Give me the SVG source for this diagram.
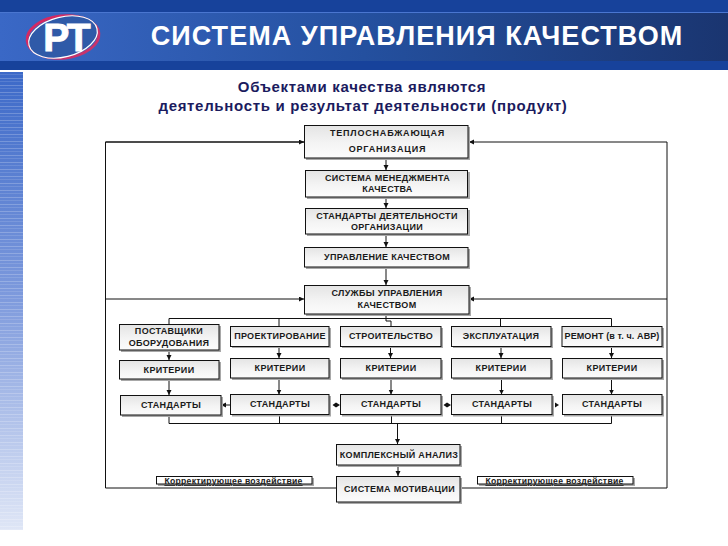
<svg xmlns="http://www.w3.org/2000/svg" width="728" height="546" viewBox="0 0 728 546">
<style>
.t{font-family:"Liberation Sans",Arial,sans-serif;font-weight:bold;font-size:9px;letter-spacing:.3px;fill:#1a1a1a;text-anchor:middle}
.w{letter-spacing:.8px}
.n{letter-spacing:.1px}
.b{fill:url(#boxg);stroke:#111;stroke-width:1}
.s{fill:#a8a8a8}
.c{fill:none;stroke:#111;stroke-width:1}
.k{font-family:"Liberation Sans",Arial,sans-serif;font-weight:bold;font-size:8.6px;fill:#222;text-anchor:middle;text-decoration:underline;letter-spacing:.3px}
.h{font-family:"Liberation Sans",Arial,sans-serif;font-weight:bold;font-size:15px;fill:#1b1b5e;text-anchor:middle;letter-spacing:.68px}
</style>
<defs>
<linearGradient id="boxg" x1="0" y1="0" x2="0" y2="1"><stop offset="0" stop-color="#e4e4e4"/><stop offset=".55" stop-color="#f4f4f4"/><stop offset="1" stop-color="#fcfcfc"/></linearGradient>
<linearGradient id="band" x1="0" y1="0" x2="1" y2="0"><stop offset="0" stop-color="#3a68c6"/><stop offset=".5" stop-color="#24509f"/><stop offset="1" stop-color="#1a3570"/></linearGradient>
<linearGradient id="side" x1="0" y1="0" x2="0" y2="1"><stop offset="0" stop-color="#3c69c8"/><stop offset=".5" stop-color="#7f9bdd"/><stop offset="1" stop-color="#dfe6f6"/></linearGradient>
<pattern id="stripes" width="23" height="7" patternUnits="userSpaceOnUse"><rect y="1" width="23" height="1" fill="#fff" opacity=".22"/><rect y="4" width="23" height="1" fill="#fff" opacity=".12"/></pattern>
<linearGradient id="ring" x1="0" y1="0" x2="1" y2="1"><stop offset="0" stop-color="#d8265f"/><stop offset="1" stop-color="#c2366e"/></linearGradient>
<marker id="a" markerWidth="6" markerHeight="6" refX="5" refY="2.5" orient="auto" markerUnits="userSpaceOnUse"><path d="M0 0L5 2.5L0 5z" fill="#111"/></marker>
</defs>

<rect width="728" height="546" fill="#fff"/>
<g id="header">
<rect width="728" height="70" fill="#17429b"/>
<rect y="12" width="728" height="49" fill="url(#band)"/>
<rect y="12" width="728" height="1" fill="#4a76d0"/>
<rect x="0" y="72" width="23" height="458" fill="url(#side)"/>
<rect x="0" y="72" width="23" height="458" fill="url(#stripes)"/>
<g id="logo">
<ellipse cx="63" cy="37" rx="36" ry="21" transform="rotate(-6 63 37)" fill="none" stroke="url(#ring)" stroke-width="3"/>
<ellipse cx="63" cy="37" rx="35" ry="20" transform="rotate(-14 63 37)" fill="#2f5aa8" stroke="#fff" stroke-width="1.2"/>
<text x="66" y="51" font-family="'Liberation Sans',Arial,sans-serif" font-weight="bold" font-size="39" fill="#fff" stroke="#fff" stroke-width="1" text-anchor="middle" letter-spacing="-2">РТ</text>
</g>
<text x="417" y="45" font-family="'Liberation Sans',Arial,sans-serif" font-weight="bold" font-size="27" fill="#fff" text-anchor="middle" letter-spacing="1.05">СИСТЕМА УПРАВЛЕНИЯ КАЧЕСТВОМ</text>
</g>
<text class="h" x="362" y="92">Объектами качества являются</text>
<text class="h" x="363" y="111">деятельность и результат деятельности (продукт)</text>

<g id="connectors">
<path class="c" d="M304 142H105.500V488H336"/>
<path class="c" d="M105.500 142H304" marker-end="url(#a)"/>
<path class="c" d="M105.500 299H304" marker-end="url(#a)"/>
<path class="c" d="M667 142H469" marker-end="url(#a)"/>
<path class="c" d="M667 299H469" marker-end="url(#a)"/>
<path class="c" d="M460 488H667V142"/>
<path class="c" d="M386 158V170" marker-end="url(#a)"/>
<path class="c" d="M386 197V208" marker-end="url(#a)"/>
<path class="c" d="M386 234V247" marker-end="url(#a)"/>
<path class="c" d="M386 267V285" marker-end="url(#a)"/>
<path class="c" d="M169 324V318.500H611.500V326.500M279 318.500V326.500M500.500 318.500V326.500M386 314V321H391V326.500"/>
<path class="c" d="M169 350V360" marker-end="url(#a)"/>
<path class="c" d="M279 346.500V358" marker-end="url(#a)"/>
<path class="c" d="M390.500 346.500V358" marker-end="url(#a)"/>
<path class="c" d="M501 346.500V358" marker-end="url(#a)"/>
<path class="c" d="M611.500 346.500V358" marker-end="url(#a)"/>
<path class="c" d="M169 379V395" marker-end="url(#a)"/>
<path class="c" d="M279 378V394.500" marker-end="url(#a)"/>
<path class="c" d="M391 378V394.500" marker-end="url(#a)"/>
<path class="c" d="M501.500 378V394.500" marker-end="url(#a)"/>
<path class="c" d="M611.500 378V394.500" marker-end="url(#a)"/>
<path class="c" d="M230 405H221" marker-end="url(#a)"/>
<path d="M332.500 405l3.500-2.500v5zM340 405l-4-2.500v5z" fill="#111"/>
<path d="M443.500 405l3.500-2.500v5zM451 405l-4-2.500v5z" fill="#111"/>
<path d="M555 402.500l4 2.500l-4 2.500z" fill="#111"/>
<path class="c" d="M169 415V423.500H611.500V414.500M279.500 414.500V423.500M391.500 414.500V423.500M501.500 414.500V423.500"/>
<path class="c" d="M397.500 423.500V444" marker-end="url(#a)"/>
<path class="c" d="M398 465V476" marker-end="url(#a)"/>
</g>

<g id="n1"><rect class="s" x="306" y="127" width="164" height="33"/><rect class="b" x="304.500" y="125.500" width="163.500" height="32.500"/><text class="t w" x="387.500" y="135.500">ТЕПЛОСНАБЖАЮЩАЯ</text><text class="t w" x="387.500" y="151.500">ОРГАНИЗАЦИЯ</text></g>
<g id="n2"><rect class="s" x="307" y="172" width="163" height="27"/><rect class="b" x="305.500" y="170.500" width="162" height="26.500"/><text class="t" x="387.500" y="180.500">СИСТЕМА МЕНЕДЖМЕНТА</text><text class="t" x="387.500" y="191.500">КАЧЕСТВА</text></g>
<g id="n3"><rect class="s" x="307" y="210" width="163" height="26"/><rect class="b" x="305.500" y="208.500" width="162" height="25.500"/><text class="t" x="387" y="218.500">СТАНДАРТЫ ДЕЯТЕЛЬНОСТИ</text><text class="t" x="387" y="229.500">ОРГАНИЗАЦИИ</text></g>
<g id="n4"><rect class="s" x="306" y="249" width="164" height="20"/><rect class="b" x="304.500" y="247.500" width="163.500" height="19.500"/><text class="t" x="387" y="260">УПРАВЛЕНИЕ КАЧЕСТВОМ</text></g>
<g id="n5"><rect class="s" x="306" y="287" width="165" height="29"/><rect class="b" x="304.500" y="285.500" width="164.500" height="28.500"/><text class="t" x="387" y="295.500">СЛУЖБЫ УПРАВЛЕНИЯ</text><text class="t" x="387" y="308">КАЧЕСТВОМ</text></g>

<g id="p1"><rect class="s" x="121" y="326" width="100" height="26"/><rect class="b" x="119.500" y="324.500" width="99.500" height="25.500"/><text class="t" x="169" y="334">ПОСТАВЩИКИ</text><text class="t" x="169" y="345.500">ОБОРУДОВАНИЯ</text></g>
<g id="p2"><rect class="s" x="232" y="328" width="99" height="20"/><rect class="b" x="230.500" y="326.500" width="98.500" height="20"/><text class="t" x="280" y="339">ПРОЕКТИРОВАНИЕ</text></g>
<g id="p3"><rect class="s" x="342" y="328" width="101" height="20"/><rect class="b" x="340.500" y="326.500" width="100.500" height="20"/><text class="t" x="391" y="339">СТРОИТЕЛЬСТВО</text></g>
<g id="p4"><rect class="s" x="453" y="328" width="100" height="20"/><rect class="b" x="451.500" y="326.500" width="99.500" height="20"/><text class="t" x="501" y="339">ЭКСПЛУАТАЦИЯ</text></g>
<g id="p5"><rect class="s" x="564" y="328" width="100" height="20"/><rect class="b" x="562" y="326.500" width="100" height="20"/><text class="t n" x="612" y="339">РЕМОНТ (в т. ч. АВР)</text></g>

<g id="k1"><rect class="s" x="121" y="362" width="100" height="19"/><rect class="b" x="119.500" y="360.500" width="99.500" height="18.500"/><text class="t" x="169" y="372.500">КРИТЕРИИ</text></g>
<g id="k2"><rect class="s" x="232" y="360" width="99" height="20"/><rect class="b" x="230.500" y="358.500" width="98.500" height="19.500"/><text class="t" x="280" y="371">КРИТЕРИИ</text></g>
<g id="k3"><rect class="s" x="342" y="360" width="101" height="20"/><rect class="b" x="340.500" y="358.500" width="100.500" height="19.500"/><text class="t" x="391" y="371">КРИТЕРИИ</text></g>
<g id="k4"><rect class="s" x="453" y="360" width="100" height="20"/><rect class="b" x="451.500" y="358.500" width="99.500" height="19.500"/><text class="t" x="501" y="371">КРИТЕРИИ</text></g>
<g id="k5"><rect class="s" x="564" y="360" width="100" height="20"/><rect class="b" x="562.500" y="358.500" width="99.500" height="19.500"/><text class="t" x="612" y="371">КРИТЕРИИ</text></g>

<g id="s1"><rect class="s" x="122" y="397" width="101" height="20"/><rect class="b" x="120.500" y="395.500" width="100.500" height="19.500"/><text class="t" x="171" y="408">СТАНДАРТЫ</text></g>
<g id="s2"><rect class="s" x="232" y="396" width="99" height="20.500"/><rect class="b" x="230.500" y="394.500" width="98.500" height="20"/><text class="t" x="280" y="406.500">СТАНДАРТЫ</text></g>
<g id="s3"><rect class="s" x="342" y="396" width="101" height="20.500"/><rect class="b" x="340.500" y="394.500" width="100.500" height="20"/><text class="t" x="391" y="406.500">СТАНДАРТЫ</text></g>
<g id="s4"><rect class="s" x="453" y="396" width="101" height="20.500"/><rect class="b" x="451.500" y="394.500" width="100.500" height="20"/><text class="t" x="502" y="406.500">СТАНДАРТЫ</text></g>
<g id="s5"><rect class="s" x="564" y="396" width="100" height="20.500"/><rect class="b" x="562.500" y="394.500" width="99.500" height="20"/><text class="t" x="612" y="406.500">СТАНДАРТЫ</text></g>

<g id="n6"><rect class="s" x="338" y="446" width="124" height="21"/><rect class="b" x="336.500" y="444.500" width="123.500" height="20.500"/><text class="t" x="399" y="458">КОМПЛЕКСНЫЙ АНАЛИЗ</text></g>
<g id="n7"><rect class="s" x="338" y="478" width="124" height="26"/><rect class="b" x="336.500" y="476.500" width="123.500" height="25.500"/><text class="t" x="399.500" y="492">СИСТЕМА МОТИВАЦИИ</text></g>
<g id="l1"><rect class="s" x="158" y="478" width="156" height="8"/><rect x="156.500" y="476.500" width="155.500" height="7.500" fill="#fff" stroke="#111"/><text class="k" x="233.500" y="484">Корректирующее воздействие</text></g>
<g id="l2"><rect class="s" x="479" y="478" width="156" height="8"/><rect x="477.500" y="476.500" width="155.500" height="7.500" fill="#fff" stroke="#111"/><text class="k" x="554.500" y="484">Корректирующее воздействие</text></g>
</svg>
